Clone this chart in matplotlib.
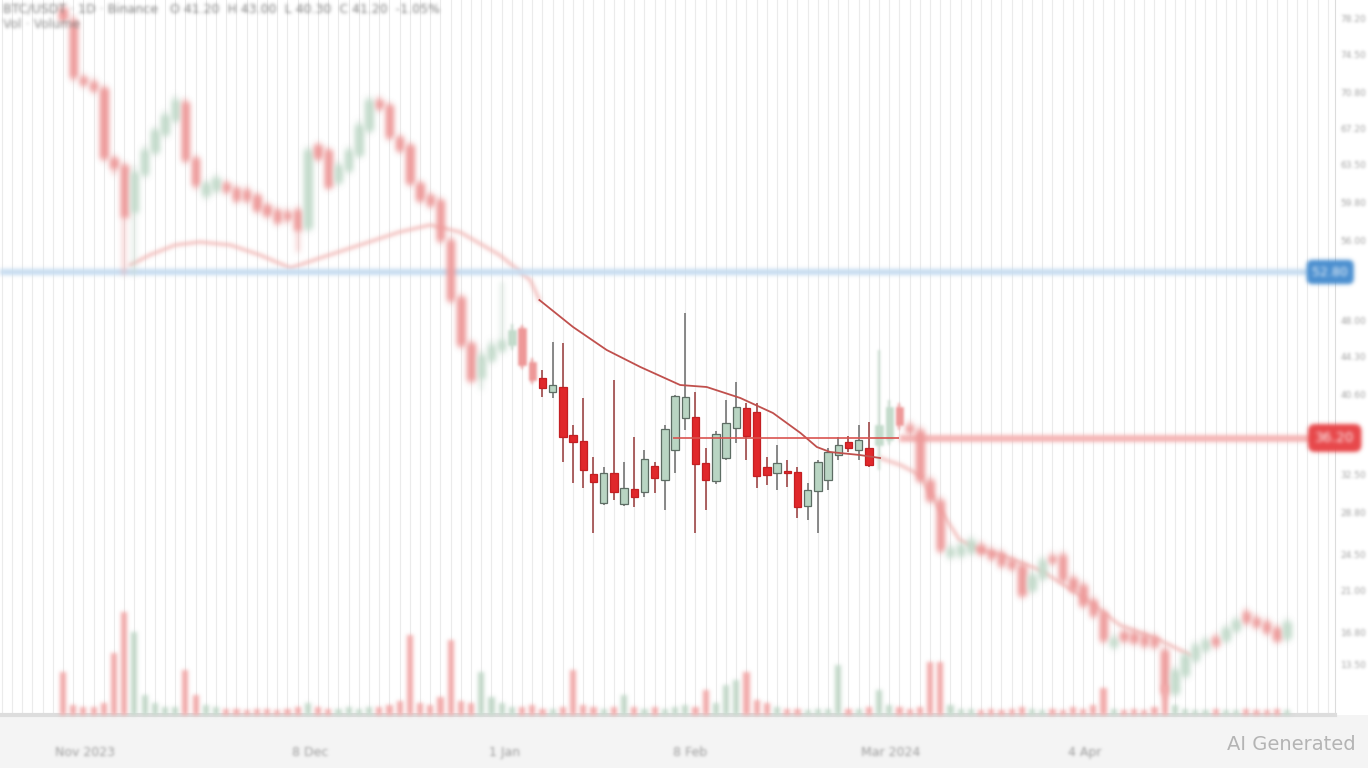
import numpy as np
import matplotlib
matplotlib.use('Agg')
import matplotlib.pyplot as plt
from matplotlib.patches import Rectangle

# candle data (one candle per slot)
open_ = [79.2, 78.0, 72.3, 71.8, 71.2, 64.2, 63.5, 58.8, 62.6, 64.8,
         66.6, 68.0, 69.8, 64.2, 60.5, 61.0, 61.7, 61.2, 61.0, 60.5,
         59.5, 59.0, 58.8, 59.0, 57.2, 65.5, 65.0, 61.8, 63.0, 64.5,
         67.0, 70.0, 69.5, 66.3, 65.5, 61.7, 60.5, 60.0, 56.0, 50.3,
         45.7, 42.2, 44.0, 45.0, 45.5, 47.2, 43.8, 42.2, 40.8, 41.3,
         36.5, 35.9, 32.6, 29.7, 32.7, 29.6, 31.1, 30.8, 33.4, 32.0,
         35.0, 38.2, 38.3, 33.7, 31.9, 34.2, 37.2, 39.2, 38.8, 33.3,
         32.7, 32.9, 32.8, 29.4, 30.9, 32.0, 34.5, 35.8, 35.0, 35.2,
         35.5, 36.0, 39.3, 37.5, 37.0, 32.0, 30.0, 24.4, 24.5, 24.8,
         25.5, 25.0, 24.7, 24.0, 23.5, 21.0, 22.2, 24.4, 24.5, 22.2,
         21.5, 20.0, 18.8, 15.4, 16.8, 16.7, 16.5, 16.3, 15.0, 10.7,
         12.5, 14.0, 15.0, 16.3, 16.0, 17.0, 18.8, 18.2, 17.8, 17.2,
         16.2]
high = [79.5, 78.5, 72.6, 72.2, 71.5, 64.5, 63.8, 63.5, 65.5, 67.4,
        69.0, 70.5, 70.2, 64.5, 62.0, 62.6, 62.0, 61.5, 61.4, 60.8,
        59.8, 59.3, 59.2, 59.4, 65.4, 65.8, 65.3, 63.9, 65.4, 68.0,
        70.4, 70.4, 69.8, 66.6, 65.8, 62.0, 60.8, 60.3, 56.4, 50.6,
        46.0, 45.0, 46.0, 51.8, 47.6, 47.5, 44.2, 43.0, 45.8, 45.7,
        37.5, 40.2, 34.3, 33.3, 42.0, 33.8, 36.3, 35.0, 33.8, 37.5,
        40.5, 48.7, 40.8, 35.2, 36.9, 40.0, 41.8, 39.7, 39.7, 34.3,
        35.5, 34.0, 33.3, 31.7, 34.0, 35.2, 36.3, 36.4, 37.5, 37.8,
        45.0, 40.0, 39.7, 37.9, 37.4, 32.4, 30.4, 25.6, 25.9, 26.4,
        25.9, 25.4, 25.1, 24.4, 23.9, 22.9, 24.4, 24.8, 24.9, 22.6,
        21.9, 20.4, 19.2, 16.6, 17.2, 17.1, 16.9, 16.7, 15.4, 13.4,
        14.9, 15.9, 16.4, 16.7, 17.6, 18.4, 19.2, 18.6, 18.2, 17.6,
        18.2]
low = [77.5, 71.8, 71.2, 70.6, 63.8, 62.5, 52.5, 52.5, 62.2, 64.4,
       66.2, 67.6, 63.6, 61.0, 60.0, 60.6, 60.5, 59.6, 59.6, 58.6,
       58.1, 57.4, 57.6, 54.8, 56.8, 63.8, 61.0, 61.4, 62.6, 64.2,
       66.6, 68.8, 65.9, 64.6, 61.3, 59.6, 59.1, 55.6, 49.6, 45.1,
       41.6, 41.0, 43.6, 44.6, 45.0, 43.1, 41.6, 40.3, 40.2, 33.8,
       31.7, 31.2, 26.7, 29.5, 30.0, 29.4, 29.3, 30.3, 30.7, 29.0,
       32.7, 37.0, 26.7, 29.0, 31.6, 34.0, 35.7, 34.0, 31.2, 31.5,
       31.0, 31.3, 28.2, 28.0, 26.7, 31.0, 34.0, 34.8, 34.0, 33.3,
       33.0, 35.5, 37.0, 36.4, 31.6, 29.6, 24.6, 24.0, 24.1, 24.4,
       24.3, 23.8, 23.1, 22.8, 20.1, 20.6, 21.8, 23.4, 21.6, 20.6,
       19.1, 18.1, 15.6, 15.0, 15.6, 15.4, 15.1, 15.0, 10.0, 10.3,
       12.1, 13.6, 14.6, 15.1, 15.6, 16.6, 17.4, 17.0, 16.4, 15.6,
       15.8]
close = [78.0, 72.3, 71.6, 71.0, 64.2, 63.2, 58.3, 62.8, 65.0, 67.0,
         68.5, 70.0, 64.0, 61.5, 61.7, 62.2, 60.9, 60.0, 60.0, 59.0,
         58.5, 57.8, 58.1, 57.0, 65.0, 64.2, 61.3, 63.5, 65.0, 67.5,
         70.0, 69.2, 66.3, 65.0, 61.7, 60.0, 59.5, 56.0, 50.0, 45.5,
         42.0, 44.5, 45.5, 46.0, 47.0, 43.5, 42.0, 41.2, 41.5, 36.3,
         35.8, 33.0, 31.8, 32.7, 30.8, 31.2, 30.3, 34.1, 32.2, 37.1,
         40.4, 40.3, 33.6, 32.0, 36.6, 37.7, 39.3, 36.4, 32.4, 32.5,
         33.7, 32.7, 29.3, 31.0, 33.8, 34.8, 35.5, 35.2, 36.0, 33.5,
         37.5, 39.3, 37.5, 36.8, 32.0, 30.0, 25.0, 25.2, 25.5, 26.0,
         24.7, 24.2, 23.5, 23.2, 20.5, 22.5, 24.0, 23.8, 22.0, 21.0,
         19.5, 18.5, 16.0, 16.2, 16.0, 15.8, 15.5, 15.4, 10.7, 13.0,
         14.5, 15.5, 16.0, 15.5, 17.2, 18.0, 17.8, 17.4, 16.8, 16.0,
         17.8]
volume = [43, 10, 8, 8, 12, 62, 103, 83, 20, 12,
          8, 8, 45, 20, 10, 8, 6, 6, 5, 6,
          6, 5, 6, 8, 12, 8, 6, 6, 8, 6,
          8, 8, 10, 14, 80, 12, 10, 18, 75, 14,
          12, 43, 18, 12, 8, 8, 10, 6, 6, 8,
          45, 10, 8, 6, 8, 20, 8, 6, 8, 6,
          8, 10, 8, 25, 12, 30, 35, 43, 15, 12,
          8, 6, 6, 5, 6, 6, 50, 6, 6, 8,
          25, 10, 8, 6, 8, 53, 53, 10, 6, 6,
          5, 6, 5, 6, 8, 6, 5, 6, 5, 8,
          6, 10, 27, 6, 5, 6, 5, 8, 30, 10,
          6, 5, 5, 6, 5, 5, 6, 5, 5, 6,
          5]

# moving average line, read at a few points
ma_idx = [6.6, 8.5, 11.0, 13.4, 16.4, 19.3, 22.3, 25.2, 29.1, 33.0,
          36.0, 38.9, 42.8, 45.8, 46.7, 50.0, 53.3, 56.6, 60.5, 63.1,
          66.4, 69.6, 72.3, 73.9, 75.2, 78.1, 80.1, 82.1, 84.0, 86.0,
          87.9, 89.9, 91.9, 95.8, 99.7, 103.6, 107.5, 110.5]
ma_val = [53.5, 54.5, 55.5, 55.8, 55.5, 54.5, 53.2, 54.2, 55.5, 56.8,
          57.5, 56.8, 54.5, 52.0, 50.0, 47.3, 45.0, 43.3, 41.5, 41.3,
          40.2, 38.7, 36.7, 35.3, 34.8, 34.5, 34.2, 33.5, 32.5, 29.0,
          26.0, 25.0, 24.5, 23.0, 20.5, 17.5, 16.0, 14.5]

blue_level = 52.8
red_level = 36.2
red_start = 59.8

price_ticks = [78.2, 74.5, 70.8, 67.2, 63.5, 59.8, 56.0, 48.0, 44.3, 40.6,
               32.5, 28.8, 24.5, 21.0, 16.8, 13.5]
date_pos = [2.2, 24.2, 43.3, 61.5, 81.1, 100.2]
date_labels = ['Nov 2023', '8 Dec', '1 Jan', '8 Feb', 'Mar 2024', '4 Apr']


def blur(sigma):
    # gaussian blur on premultiplied rgba, used as agg filter
    def filt(img, dpi):
        s = sigma * dpi / 100.0
        r = max(1, int(3 * s))
        k = np.exp(-0.5 * (np.arange(-r, r + 1) / s) ** 2)
        k /= k.sum()
        a = img[..., 3:4]
        pm = np.concatenate([img[..., :3] * a, a], axis=2)
        pm = np.pad(pm, ((r, r), (r, r), (0, 0)))
        tmp = np.zeros_like(pm)
        for j, w in enumerate(k):
            tmp += w * np.roll(pm, j - r, axis=0)
        out = np.zeros_like(pm)
        for j, w in enumerate(k):
            out += w * np.roll(tmp, j - r, axis=1)
        al = out[..., 3:4]
        rgb = out[..., :3] / np.maximum(al, 1e-6)
        return np.clip(np.concatenate([rgb, al], axis=2), 0, 1), -r, -r
    return filt


fig = plt.figure(figsize=(13.68, 7.68), dpi=100, facecolor='#f4f4f4')
fig.patches.append(Rectangle((1335 / 1368, 53 / 768), 33 / 1368, 715 / 768,
                             transform=fig.transFigure, fc='white', zorder=-1))
ax = fig.add_axes([0, 53 / 768, 1335 / 1368, 715 / 768])
ax.set_facecolor('white')
ax.set_xlim(-6.18, 124.7)
ax.set_ylim(8.5, 80)

O = np.array(open_)
H = np.array(high)
L = np.array(low)
C = np.array(close)
xs = np.arange(len(O))


def draw_candles(idx, sigma, crisp):
    idx = np.array(idx)
    o, h, l, c = O[idx], H[idx], L[idx], C[idx]
    up = c >= o
    if crisp:
        body = np.where(up, '#b9d5c3', '#e0282b')
        edge = np.where(up, '#5d6d64', '#c41f22')
        wick = np.where(up, '#6a6a6a', '#963838')
        lw_w, lw_b = 1.1, 0.9
    else:
        body = np.where(up, '#c3dbcb', '#ee9898')
        edge = body
        wick = np.where(up, '#c9dccf', '#f0a8a8')
        lw_w, lw_b = 1.6, 0.5
    wl = ax.vlines(idx, l, h, colors=list(wick), lw=lw_w, zorder=3)
    bars = ax.bar(idx, np.maximum(np.abs(c - o), 0.2), bottom=np.minimum(o, c),
                  width=0.72, color=list(body), edgecolor=list(edge),
                  linewidth=lw_b, zorder=4)
    if sigma:
        wl.set_agg_filter(blur(sigma))
        for p in bars:
            p.set_agg_filter(blur(sigma))


sharp = list(range(47, 80))
soft = [44, 45, 46, 80, 81, 82]
far = [i for i in xs if i not in sharp and i not in soft]
draw_candles(far, 2.8, False)
draw_candles(soft, 1.3, False)
draw_candles(sharp, 0, True)

# moving average
mi = np.array(ma_idx)
mv = np.array(ma_val)
m_mid = (mi >= 46.7) & (mi <= 80.1)
m_left = mi <= 46.7
m_right = mi >= 80.1
ax.plot(mi[m_mid], mv[m_mid], color='#c0504d', lw=1.3, zorder=5)
for m in (m_left, m_right):
    ln, = ax.plot(mi[m], mv[m], color='#f2b8b6', lw=2.2, zorder=2)
    ln.set_agg_filter(blur(2.0))

# price levels
bl = ax.axhline(blue_level, color='#c7ddf1', lw=4.5, zorder=2)
bl.set_agg_filter(blur(2.0))
ax.hlines(red_level, red_start, 82, color='#d9534f', lw=1.2, zorder=5)
rl = ax.hlines(red_level, 82, 124.7, color='#f5b5b5', lw=5, zorder=2)
rl.set_agg_filter(blur(2.0))

tr = ax.get_yaxis_transform()
t1 = ax.text(0.983, blue_level, '%.2f' % blue_level, transform=tr, ha='left',
             va='center', fontsize=9, color='white', clip_on=False, zorder=8,
             bbox=dict(boxstyle='round,pad=0.45', fc='#4a8fd0', ec='none'))
t2 = ax.text(0.985, red_level, '%.2f' % red_level, transform=tr, ha='left',
             va='center', fontsize=10, color='white', clip_on=False, zorder=8,
             bbox=dict(boxstyle='round,pad=0.5', fc='#e8474a', ec='none'))
t1.set_agg_filter(blur(2.0))
t2.set_agg_filter(blur(2.0))

# volume
axv = ax.twinx()
axv.set_ylim(0, 715)
axv.set_yticks([])
for s in axv.spines.values():
    s.set_visible(False)
vcol = np.where(C >= O, '#c3d9ca', '#f3abab')
vb = axv.bar(xs, volume, width=0.6, color=list(vcol), zorder=1)
for p in vb:
    p.set_agg_filter(blur(2.0))

# axes styling
ax.set_xticks(np.arange(-6, 125), minor=True)
ax.grid(which='minor', axis='x', color='#ebebeb', lw=0.8)
ax.set_axisbelow(True)
ax.set_xticks(date_pos)
ax.set_xticklabels(date_labels)
ax.tick_params(axis='x', which='both', length=0, pad=22, labelsize=9,
               labelcolor='#9a9a9a')
ax.yaxis.tick_right()
ax.set_yticks(price_ticks)
ax.set_yticklabels(['%.2f' % v for v in price_ticks])
ax.tick_params(axis='y', length=0, pad=4, labelsize=6.5, labelcolor='#a0a0a0')
for lbl in ax.get_yticklabels() + ax.get_xticklabels():
    lbl.set_agg_filter(blur(1.4))
for k in ('top', 'left'):
    ax.spines[k].set_visible(False)
ax.spines['right'].set_color('#dcdcdc')
ax.spines['bottom'].set_color('#dddddd')
ax.spines['bottom'].set_linewidth(3)

h1 = ax.text(0.002, 0.997, 'BTC/USDT · 1D · Binance   O 41.20  H 43.00  L 40.30  C 41.20  -1.05%',
             transform=ax.transAxes, ha='left', va='top', fontsize=9,
             color='#7a7a7a', zorder=9)
h2 = ax.text(0.002, 0.975, 'Vol · Volume', transform=ax.transAxes, ha='left',
             va='top', fontsize=9, color='#8a8a8a', zorder=9)
h1.set_agg_filter(blur(1.6))
h2.set_agg_filter(blur(1.6))

fig.text(0.991, 0.03, 'AI Generated', ha='right', va='center', fontsize=14,
         color='#b4b4b4')

fig.savefig('out.png', dpi=100, facecolor=fig.get_facecolor())
